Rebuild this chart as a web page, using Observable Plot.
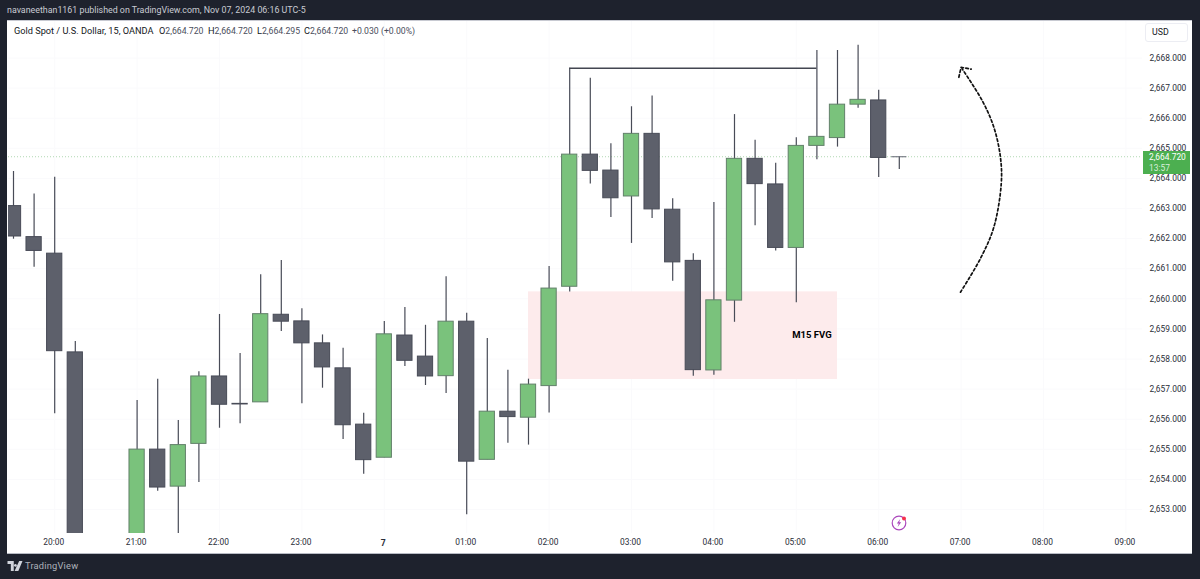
<!DOCTYPE html>
<html>
<head>
<meta charset="utf-8">
<script src="https://cdn.jsdelivr.net/npm/d3@7"></script>
<script src="https://cdn.jsdelivr.net/npm/@observablehq/plot@0.6"></script>
<style>
  html, body { margin: 0; padding: 0; background: #1e222d; width: 1200px; height: 579px; overflow: hidden; font-family: Roboto, sans-serif; }
  #panel { position: absolute; left: 7px; top: 20px; width: 1185px; height: 532px; background: #fff; border-bottom: 1px solid #b8bbc4; border-top: 1px solid #c8cad2; }
  #chart { position: absolute; left: 0; top: 0; }
  #chart svg { background: none; display: block; }
  #head { position: absolute; left: 7px; top: 5px; font-size: 8.85px; color: #c9ccd4; white-space: nowrap; }
  #legend { position: absolute; top: 25px; left: 14px; height: 12px; font-size: 9.2px; color: #131722; white-space: nowrap; }
  #legend span { position: absolute; top: 0; }
  #legend b { font-weight: 400; color: #4a4e5c; font-size: 8.7px; }
  #usd { position: absolute; left: 1145px; top: 23px; width: 43px; height: 19px; box-sizing: border-box; border: 1px solid #ecedf3; border-radius: 3px; font-size: 8.8px; color: #131722; line-height: 17px; padding-left: 6px; background: #fff; }
  #tag { position: absolute; left: 1143px; top: 151px; width: 47px; height: 23px; background: #4caf50; color: #fff; font-size: 8.4px; line-height: 10.6px; padding: 1px 0 0 6px; box-sizing: border-box; }
  #tag i { font-style: normal; color: #d8eed9; display: block; }
  #foot { position: absolute; left: 25px; top: 560px; font-size: 9.3px; color: #aeb2bb; letter-spacing: 0.2px; }
  #logo { position: absolute; left: 7px; top: 561px; }
  #bolt { position: absolute; left: 890px; top: 514px; }
</style>
</head>
<body>
<div id="panel"></div>
<div id="chart"></div>
<div id="head">navaneethan1161 published on TradingView.com, Nov 07, 2024 06:16 UTC-5</div>
<div id="legend">
  <span style="left:0">Gold Spot / U.S. Dollar, 15, OANDA</span>
  <span style="left:145px">O<b>2,664.720</b></span>
  <span style="left:194px">H<b>2,664.720</b></span>
  <span style="left:243px">L<b>2,664.295</b></span>
  <span style="left:290px">C<b>2,664.720</b></span>
  <span style="left:338px"><b>+0.030 (+0.00%)</b></span>
</div>
<div id="usd">USD</div>
<div id="tag">2,664.720<i>13:57</i></div>
<svg id="bolt" width="18" height="18" viewBox="0 0 18 18">
  <circle cx="9" cy="9" r="6.8" fill="none" stroke="#ab47bc" stroke-width="1.2"/>
  <path d="M10.2 5 L6.8 9.6 L8.8 9.6 L7.6 13 L11.2 8.2 L9.2 8.2 Z" fill="#ab47bc"/>
  <circle cx="14" cy="4.6" r="2" fill="#f7304a"/>
</svg>
<svg id="logo" width="16" height="10" viewBox="0 0 36 24">
  <path d="M0 0 H15 V24 H8 V7 H0 Z M19 7 a3.5 3.5 0 1 0 .01 0 Z M28 0 H36 L26 24 H17 Z" fill="#d1d4dc"/>
</svg>
<div id="foot">TradingView</div>
<script>
// Price candles, one per 15 minutes; index 2 is 20:00. Bars 4 and 5 lie entirely below the visible range.
const opens = [2663.08,2662.05,2661.50,2658.22,null,null,2652.00,2654.99,2653.76,2655.18,2657.42,2656.51,2656.56,2659.47,2659.25,2658.52,2657.69,2655.82,2654.72,2658.78,2658.08,2657.43,2659.24,2654.65,2656.25,2656.05,2657.10,2660.40,2664.79,2664.26,2663.40,2665.48,2662.96,2661.26,2657.62,2659.94,2664.65,2663.80,2661.69,2665.08,2665.34,2666.45,2666.59,2664.72];
const highs = [2664.23,2663.48,2664.04,2658.58,null,null,2656.62,2657.33,2655.96,2657.58,2659.48,2658.18,2660.80,2661.27,2659.67,2658.80,2658.36,2656.20,2659.25,2659.71,2659.12,2660.73,2659.52,2658.68,2657.63,2657.33,2661.07,2667.66,2667.33,2665.15,2666.38,2666.74,2663.32,2661.50,2663.20,2666.12,2665.27,2664.50,2665.35,2668.25,2668.25,2668.42,2666.93,2664.72];
const lows = [2661.98,2661.05,2656.18,2652.00,null,null,2652.00,2653.61,2652.00,2653.90,2655.70,2655.85,2656.56,2658.91,2656.51,2657.03,2655.33,2654.17,2654.72,2657.75,2657.12,2656.85,2652.83,2654.65,2655.20,2655.14,2656.21,2660.23,2663.81,2662.70,2661.84,2662.67,2660.58,2657.43,2657.46,2659.22,2662.43,2661.59,2659.87,2664.62,2665.04,2666.33,2664.03,2664.295];
const closes = [2662.07,2661.59,2658.26,2652.00,null,null,2654.99,2653.73,2655.14,2657.42,2656.48,2656.49,2659.49,2659.24,2658.52,2657.72,2655.80,2654.64,2658.82,2657.94,2657.42,2659.24,2654.59,2656.25,2656.07,2657.15,2660.34,2664.79,2664.25,2663.34,2665.48,2662.97,2661.21,2657.63,2659.95,2664.65,2663.81,2661.69,2665.08,2665.38,2666.45,2666.61,2664.68,2664.72];

const lastClose = 2664.72;
const priceTicks = [2653,2654,2655,2656,2657,2658,2659,2660,2661,2662,2663,2664,2665,2666,2667,2668];
const timeTicks = [2,6,10,14,22,26,30,34,38,42,46,50,54];
const timeLabels = ["20:00","21:00","22:00","23:00","01:00","02:00","03:00","04:00","05:00","06:00","07:00","08:00","09:00"];
const dayTick = [18];
const dayLabel = "7";

// Fair value gap zone
const fvgBars = [25, 40];
const fvgPrices = [2657.32, 2660.23];
const fvgLabel = "M15 FVG";
const fvgLabelAt = [38.76, 2658.81];

// Horizontal level drawn from the 02:15 high
const levelBars = [27, 39];
const levelPrice = 2667.66;

// Curved dashed arrow
const arcBars = [45.97,46.94,47.59,47.95,47.91,47.59,47.02,46.05];
const arcPrices = [2660.22,2661.34,2662.38,2663.83,2664.70,2665.70,2666.59,2667.64];
const headBars = [45.89,46.0,46.49];
const headPrices = [2667.36,2667.69,2667.63];

const bars = closes.map((c,i)=>({i,o:opens[i],h:highs[i],l:lows[i],c})).filter(d=>d.c!=null);
const flatBars = bars.filter(d=>d.o===d.c);
const arc = arcBars.map((x,i)=>({x,y:arcPrices[i]}));
const head = headBars.map((x,i)=>({x,y:headPrices[i]}));

const bodyHalf = 0.37;
const gridColor = "#fafafc", ink = "#484b57", axisInk = "#2a2e39";

const chart = Plot.plot({
  width: 1200, height: 553,
  marginTop: 21, marginBottom: 20, marginLeft: 8, marginRight: 58,
  style: {background:"none", fontFamily:"Roboto, sans-serif"},
  x: {type:"linear", domain:[-0.2427,54.806]},
  y: {type:"linear", domain:[2652.203,2669.2126]},
  marks: [
    Plot.ruleY(priceTicks,{stroke:gridColor}),
    Plot.ruleX(timeTicks.concat(dayTick),{stroke:gridColor}),
    Plot.rect([0],{x1:()=>fvgBars[0],x2:()=>fvgBars[1],y1:()=>fvgPrices[0],y2:()=>fvgPrices[1],fill:"#fdebec"}),
    Plot.ruleY([lastClose],{stroke:"#7fbf82",strokeOpacity:0.6,strokeDasharray:"1,2",strokeWidth:1}),
    Plot.ruleX(bars,{x:"i",y1:"l",y2:"h",stroke:ink,strokeWidth:1.2,clip:"frame"}),
    Plot.rect(bars,{
      x1:d=>d.i-bodyHalf, x2:d=>d.i+bodyHalf,
      y1:"o", y2:"c",
      fill:d=>d.c>=d.o?"#7ac27c":"#5d606b",
      stroke:d=>d.c>=d.o?"#62806a":"#484b57",
      strokeWidth:1, inset:0, clip:"frame"
    }),
    Plot.ruleY(flatBars,{y:"c",x1:d=>d.i-bodyHalf,x2:d=>d.i+bodyHalf,stroke:"#70737e",strokeWidth:1.1}),
    Plot.text([fvgLabel],{x:()=>fvgLabelAt[0],y:()=>fvgLabelAt[1],text:d=>d,fontWeight:"bold",fontSize:9.5,fill:"#000"}),
    Plot.ruleY([levelPrice],{x1:()=>levelBars[0],x2:()=>levelBars[1],stroke:"#434651",strokeWidth:1.3}),
    Plot.line(arc,{x:"x",y:"y",curve:"catmull-rom",stroke:"#111",strokeWidth:1.7,strokeDasharray:"2.6,2.4"}),
    Plot.line(head,{x:"x",y:"y",stroke:"#111",strokeWidth:1.7,strokeDasharray:"2.6,2.4"}),
    Plot.axisY(priceTicks,{anchor:"right",tickSize:0,tickPadding:7,label:null,tickFormat:d3.format(",.3f"),fontSize:8.4,fill:axisInk}),
    Plot.axisX(timeTicks,{anchor:"bottom",tickSize:0,tickPadding:6,dx:-1,label:null,tickFormat:d=>timeLabels[timeTicks.indexOf(d)],fontSize:8.4,fill:axisInk}),
    Plot.axisX(dayTick,{anchor:"bottom",tickSize:0,tickPadding:6,dx:-1,label:null,tickFormat:()=>dayLabel,fontSize:8.6,fontWeight:"bold",fill:axisInk})
  ]
});
document.getElementById("chart").appendChild(chart);
</script>
</body>
</html>
